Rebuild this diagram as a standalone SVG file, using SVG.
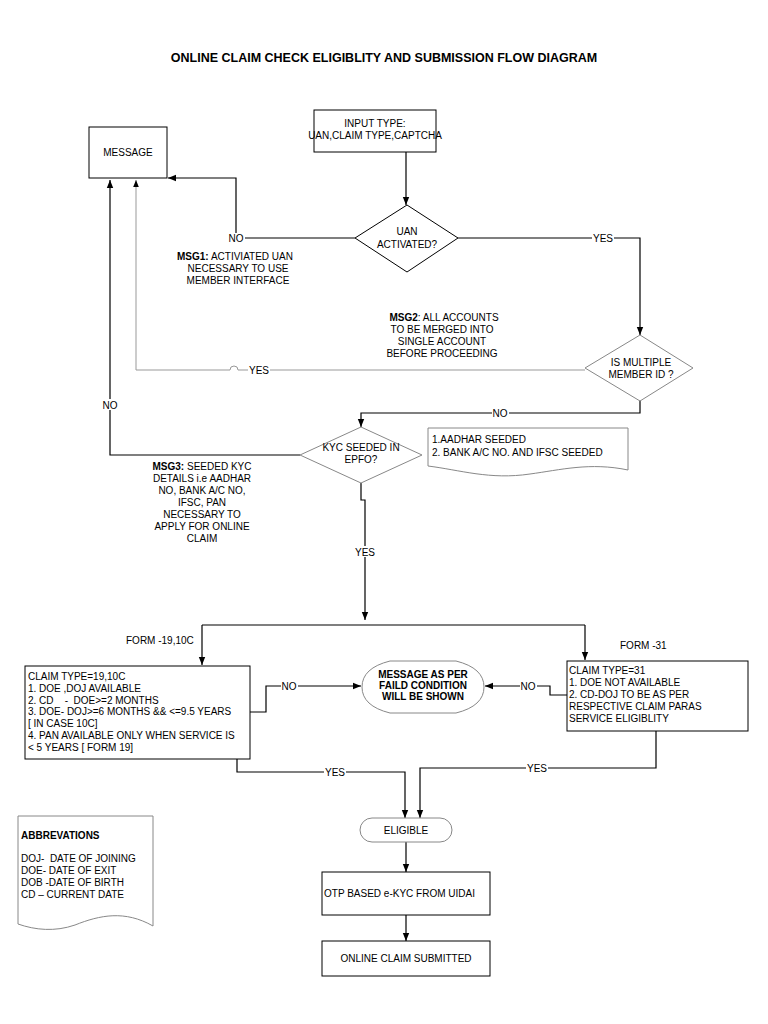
<svg xmlns="http://www.w3.org/2000/svg" width="768" height="1024" viewBox="0 0 768 1024">
<defs>
<marker id="ah" viewBox="0 0 10 10" refX="10" refY="5" markerWidth="7" markerHeight="7" orient="auto"><path d="M0,1 L10,5 L0,9 z" fill="#000"/></marker>
<style>
text{font-family:"Liberation Sans",Arial,sans-serif;font-size:10px;fill:#000}
.c{text-anchor:middle}
.b{font-weight:bold}
.box{fill:#fff;stroke:#000;stroke-width:1}
.gbox{fill:#fff;stroke:#888;stroke-width:1}
.ln{fill:none;stroke:#000;stroke-width:1.2}
.gl{fill:none;stroke:#999;stroke-width:1}
.lbl{fill:#fff;stroke:none}
</style>
</defs>
<rect width="768" height="1024" fill="#fff"/>
<text x="384" y="62" class="c b" style="font-size:12.5px">ONLINE CLAIM CHECK ELIGIBLITY AND SUBMISSION FLOW DIAGRAM</text>

<g id="connectors">
<path class="ln" d="M406,152 V205" marker-end="url(#ah)"/>
<path class="ln" d="M355,238 H236 V178 H168" marker-end="url(#ah)"/>
<path class="ln" d="M458,238 H640 V335" marker-end="url(#ah)"/>
<path class="gl" d="M585,370 H238 a4,4 0 0 0 -8,0 H136 V180" marker-end="url(#ah)"/>
<path class="ln" d="M640,400 V413 H361 V427" marker-end="url(#ah)"/>
<path class="ln" d="M300,455 H110 V180" marker-end="url(#ah)"/>
<path class="ln" d="M361,483 V500 H365 V620" marker-end="url(#ah)"/>
<path class="ln" d="M202,625 H585"/>
<path class="ln" d="M202,625 V665" marker-end="url(#ah)"/>
<path class="ln" d="M585,625 V660" marker-end="url(#ah)"/>
<path class="ln" d="M250,712 H266 V686 H361" marker-end="url(#ah)"/>
<path class="ln" d="M567,695 H550 V686 H485" marker-end="url(#ah)"/>
<path class="ln" d="M237,759 V772 H405 V818" marker-end="url(#ah)"/>
<path class="ln" d="M656,731 V768 H420 V818" marker-end="url(#ah)"/>
<path class="ln" d="M406,842 V872" marker-end="url(#ah)"/>
<path class="ln" d="M406,915 V941" marker-end="url(#ah)"/>
<rect class="lbl" x="228" y="233" width="17" height="10"/><text x="236" y="242" class="c">NO</text>
<rect class="lbl" x="592" y="233" width="22" height="10"/><text x="603" y="242" class="c">YES</text>
<rect class="lbl" x="248" y="365" width="22" height="10"/><text x="259" y="374" class="c">YES</text>
<rect class="lbl" x="492" y="408" width="17" height="10"/><text x="500" y="417" class="c">NO</text>
<rect class="lbl" x="101" y="399" width="18" height="11"/><text x="110" y="409" class="c">NO</text>
<rect class="lbl" x="353" y="546" width="24" height="11"/><text x="365" y="556" class="c">YES</text>
<rect class="lbl" x="281" y="681" width="17" height="10"/><text x="289" y="690" class="c">NO</text>
<rect class="lbl" x="520" y="681" width="17" height="10"/><text x="528" y="690" class="c">NO</text>
<rect class="lbl" x="324" y="767" width="22" height="10"/><text x="335" y="776" class="c">YES</text>
<rect class="lbl" x="526" y="763" width="22" height="10"/><text x="537" y="772" class="c">YES</text>
</g>

<g id="message"><rect class="box" x="89" y="127" width="78" height="51"/><text x="128" y="156" class="c">MESSAGE</text></g>
<g id="input"><rect class="box" x="314" y="110" width="122" height="42"/><text x="375" y="127" class="c">INPUT TYPE:</text><text x="375" y="139" class="c">UAN,CLAIM TYPE,CAPTCHA</text></g>
<g id="uan"><polygon class="box" points="407,205 458,238 407,272 355,238"/><text x="407" y="235" class="c">UAN</text><text x="407" y="248" class="c">ACTIVATED?</text></g>
<g id="msg1"><text x="235" y="260" class="c"><tspan class="b">MSG1:</tspan> ACTIVIATED UAN</text><text x="238" y="272" class="c">NECESSARY TO USE</text><text x="238" y="284" class="c">MEMBER INTERFACE</text></g>
<g id="msg2"><text x="444" y="321" class="c"><tspan class="b">MSG2</tspan>: ALL ACCOUNTS</text><text x="442" y="333" class="c">TO BE MERGED INTO</text><text x="442" y="345" class="c">SINGLE ACCOUNT</text><text x="442" y="357" class="c">BEFORE PROCEEDING</text></g>
<g id="multi"><polygon class="gbox" points="640,335 693,368 640,401 585,368"/><text x="641" y="366" class="c">IS MULTIPLE</text><text x="641" y="378" class="c">MEMBER ID ?</text></g>
<g id="kyc"><polygon class="gbox" points="361,427 422,455 361,483 300,455"/><text x="361" y="451" class="c">KYC SEEDED IN</text><text x="361" y="463" class="c">EPFO?</text></g>
<g id="kycdoc"><path class="gbox" d="M428,428 H628 V470 C590,462 560,470 530,474 C490,480 460,470 428,466 Z"/><text x="432" y="443">1.AADHAR SEEDED</text><text x="432" y="456">2. BANK A/C NO. AND IFSC SEEDED</text></g>
<g id="msg3"><text x="202" y="470" class="c"><tspan class="b">MSG3:</tspan> SEEDED KYC</text><text x="202" y="482" class="c">DETAILS i.e AADHAR</text><text x="202" y="494" class="c">NO, BANK A/C NO,</text><text x="202" y="506" class="c">IFSC, PAN</text><text x="202" y="518" class="c">NECESSARY TO</text><text x="202" y="530" class="c">APPLY FOR ONLINE</text><text x="202" y="542" class="c">CLAIM</text></g>
<text x="126" y="644">FORM -19,10C</text>
<text x="620" y="649">FORM -31</text>
<g id="form19"><rect class="box" x="25" y="666" width="225" height="93"/>
<text x="28" y="680">CLAIM TYPE=19,10C</text><text x="28" y="692">1. DOE ,DOJ AVAILABLE</text><text x="28" y="704" xml:space="preserve">2. CD    -  DOE&gt;=2 MONTHS</text><text x="28" y="715">3.  DOE- DOJ&gt;=6 MONTHS &amp;&amp; &lt;=9.5 YEARS</text><text x="28" y="727">[ IN CASE 10C]</text><text x="28" y="739">4. PAN AVAILABLE ONLY WHEN SERVICE IS</text><text x="28" y="751">&lt; 5 YEARS  [ FORM 19]</text></g>
<g id="form31"><rect class="box" x="567" y="661" width="181" height="70"/>
<text x="569" y="674">CLAIM TYPE=31</text><text x="569" y="686">1. DOE NOT AVAILABLE</text><text x="569" y="698">2. CD-DOJ TO BE AS PER</text><text x="569" y="710">RESPECTIVE CLAIM PARAS</text><text x="569" y="722">SERVICE ELIGIBLITY</text></g>
<g id="failmsg"><path class="gbox" d="M390,661 H456 Q484,668 484,687 Q484,706 456,713 H390 Q362,706 362,687 Q362,668 390,661 Z"/><text x="423" y="678" class="c b">MESSAGE AS PER</text><text x="423" y="689" class="c b">FAILD CONDITION</text><text x="423" y="700" class="c b">WILL BE SHOWN</text></g>
<g id="eligible"><path class="gbox" d="M372,818 H440 A12,12 0 0 1 440,842 H372 A12,12 0 0 1 372,818 Z"/><text x="406" y="834" class="c">ELIGIBLE</text></g>
<g id="otp"><rect class="box" x="322" y="872" width="168" height="43"/><text x="324" y="897">OTP BASED e-KYC FROM UIDAI</text></g>
<g id="submitted"><rect class="box" x="322" y="941" width="168" height="35"/><text x="406" y="962" class="c">ONLINE CLAIM SUBMITTED</text></g>
<g id="abbr"><path class="gbox" d="M18,816 H153 V926 C125,910 100,915 75,925 C55,932 35,930 18,924 Z"/>
<text x="21" y="839" class="b">ABBREVATIONS</text><text x="21" y="862" xml:space="preserve">DOJ-  DATE OF JOINING</text><text x="21" y="874">DOE- DATE OF EXIT</text><text x="21" y="886">DOB -DATE OF BIRTH</text><text x="21" y="898">CD – CURRENT DATE</text></g>
</svg>
